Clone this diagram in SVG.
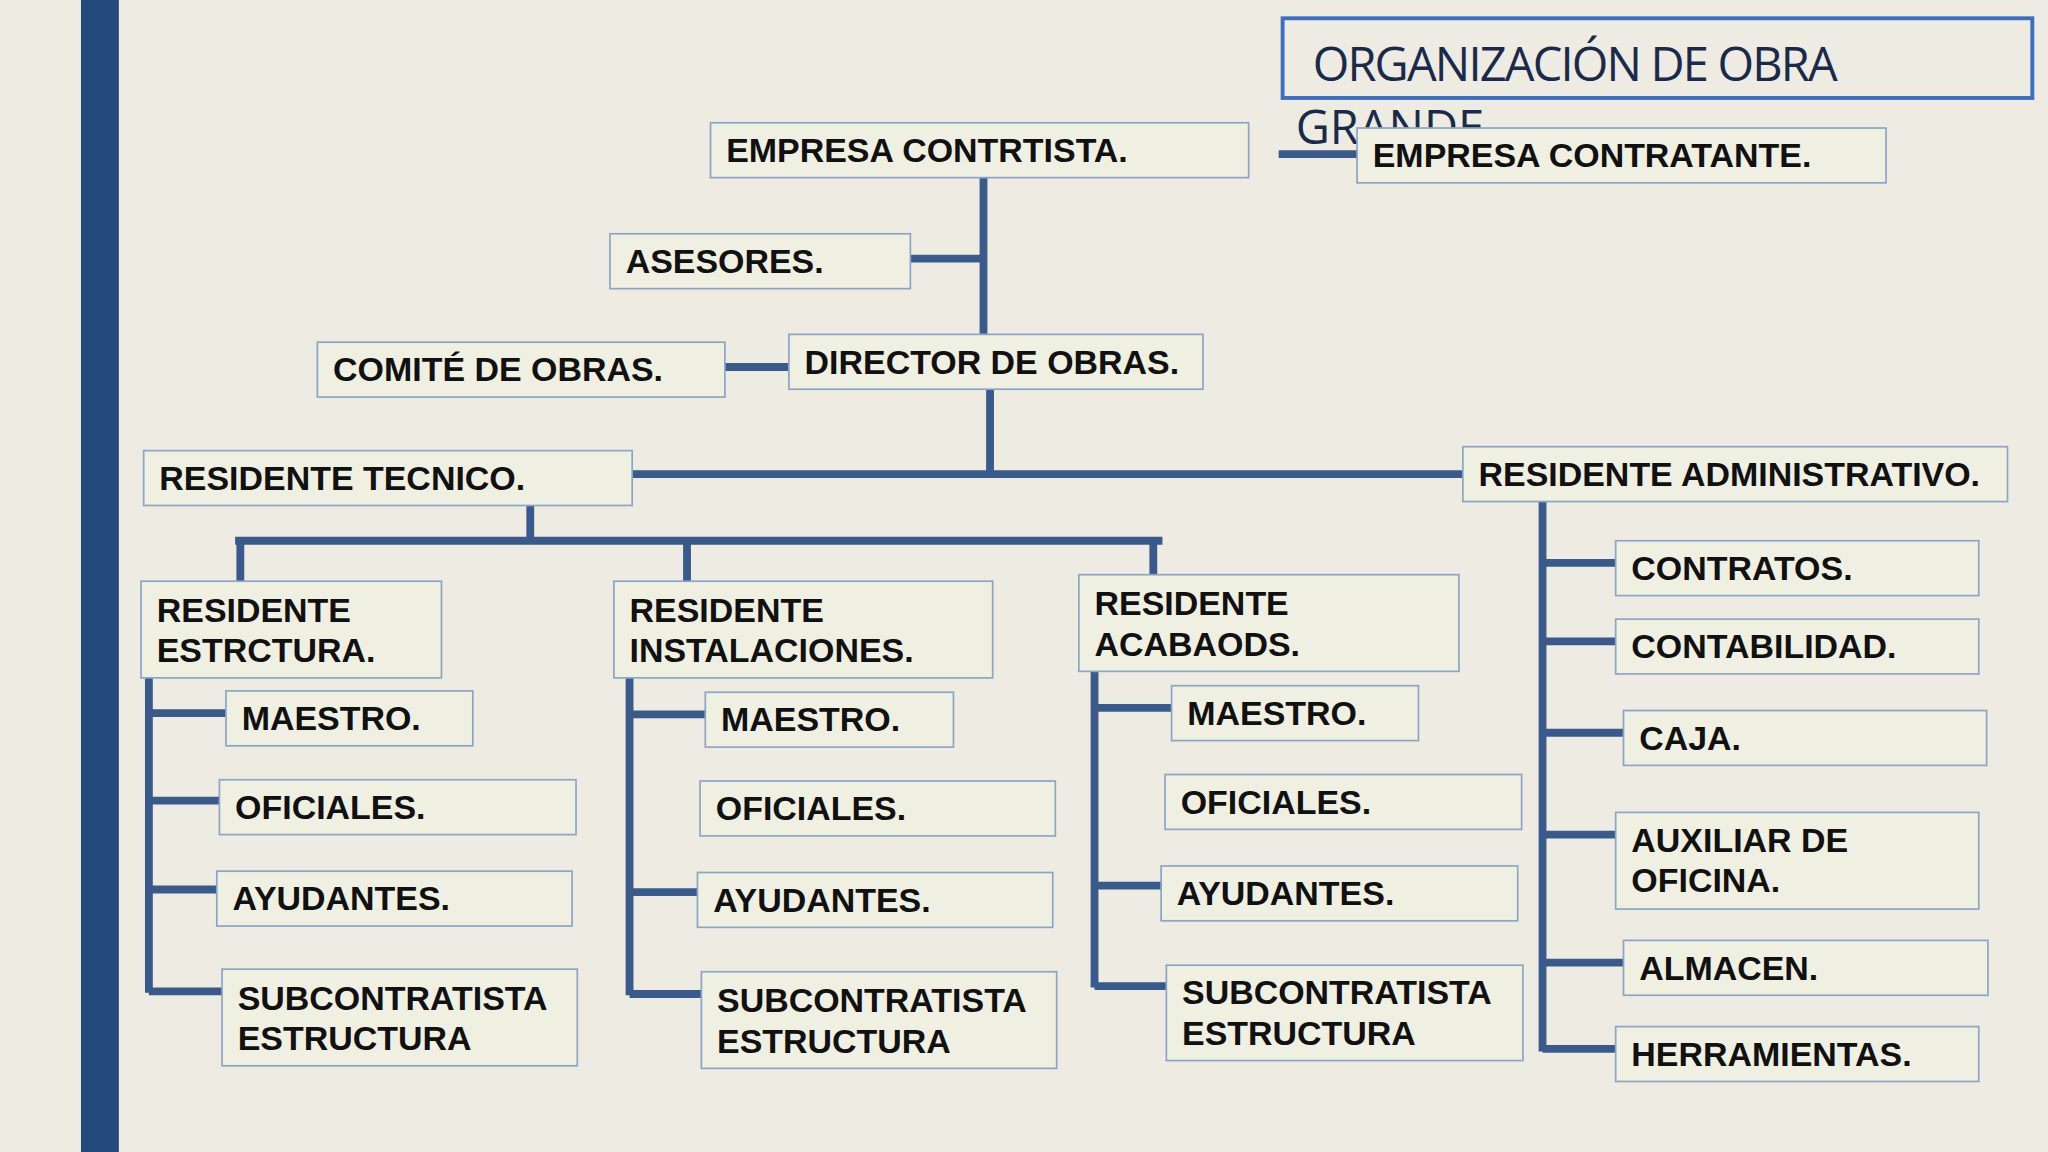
<svg xmlns="http://www.w3.org/2000/svg" width="2048" height="1152" viewBox="0 0 2048 1152">
<style>
.b{fill:#eff0e2;stroke:#8aa6c6;stroke-width:1.3}
.t{font-family:"Liberation Sans",Arial,sans-serif;font-weight:bold;font-size:26px;fill:#111}
.c{stroke:#3b5a8c;stroke-width:6;fill:none}
</style>
<rect width="2048" height="1152" fill="#eeece2"/>
<g transform="scale(1.30612)">
<rect x="62" y="0" width="29" height="882" fill="#244a7c"/>
<g id="title">
<text x="1005" y="62" font-family="'Open Sans','Liberation Sans',sans-serif" font-size="36" fill="#1a2a4a" textLength="402">ORGANIZACIÓN DE OBRA</text>
<text x="992" y="110" font-family="'Open Sans','Liberation Sans',sans-serif" font-size="36" fill="#1a2a4a">GRANDE</text>
<rect x="982" y="14" width="574" height="61" fill="none" stroke="#3a6fc4" stroke-width="3"/>
</g>
<g id="connectors">
<path class="c" d="M979 118H1039M753 136V256M697 198H753M555 281H610M758 298V362M484 363H1120M406 387V414M180 414H890M184 414V445M526 414V445M883 414V440"/>
<path class="c" d="M114 519V760M114 546H173M114 613H168M114 681H166M114 759H170"/>
<path class="c" d="M482 519V762M482 547H540M482 683H534M482 761H537"/>
<path class="c" d="M838 514V756M838 542H897M838 678H889M838 755H893"/>
<path class="c" d="M1181 384V805M1181 431H1237M1181 491H1237M1181 561H1243M1181 639H1237M1181 737H1243M1181 803H1237"/>
</g>
<g id="n1"><rect class="b" x="544" y="94" width="412" height="42"/><text class="t" x="556" y="124">EMPRESA CONTRTISTA.</text></g>
<g id="n2"><rect class="b" x="1039" y="98" width="405" height="42"/><text class="t" x="1051" y="128">EMPRESA CONTRATANTE.</text></g>
<g id="n3"><rect class="b" x="467" y="179" width="230" height="42"/><text class="t" x="479" y="209">ASESORES.</text></g>
<g id="n4"><rect class="b" x="604" y="256" width="317" height="42"/><text class="t" x="616" y="286">DIRECTOR DE OBRAS.</text></g>
<g id="n5"><rect class="b" x="243" y="262" width="312" height="42"/><text class="t" x="255" y="292">COMITÉ DE OBRAS.</text></g>
<g id="n6"><rect class="b" x="110" y="345" width="374" height="42"/><text class="t" x="122" y="375">RESIDENTE TECNICO.</text></g>
<g id="n7"><rect class="b" x="1120" y="342" width="417" height="42"/><text class="t" x="1132" y="372">RESIDENTE ADMINISTRATIVO.</text></g>
<g id="n8"><rect class="b" x="108" y="445" width="230" height="74"/><text class="t" x="120" y="476">RESIDENTE</text><text class="t" x="120" y="507">ESTRCTURA.</text></g>
<g id="n9"><rect class="b" x="470" y="445" width="290" height="74"/><text class="t" x="482" y="476">RESIDENTE</text><text class="t" x="482" y="507">INSTALACIONES.</text></g>
<g id="n10"><rect class="b" x="826" y="440" width="291" height="74"/><text class="t" x="838" y="471">RESIDENTE</text><text class="t" x="838" y="502">ACABAODS.</text></g>
<g id="n11"><rect class="b" x="173" y="529" width="189" height="42"/><text class="t" x="185" y="559">MAESTRO.</text></g>
<g id="n12"><rect class="b" x="168" y="597" width="273" height="42"/><text class="t" x="180" y="627">OFICIALES.</text></g>
<g id="n13"><rect class="b" x="166" y="667" width="272" height="42"/><text class="t" x="178" y="697">AYUDANTES.</text></g>
<g id="n14"><rect class="b" x="170" y="742" width="272" height="74"/><text class="t" x="182" y="773">SUBCONTRATISTA</text><text class="t" x="182" y="804">ESTRUCTURA</text></g>
<g id="n15"><rect class="b" x="540" y="530" width="190" height="42"/><text class="t" x="552" y="560">MAESTRO.</text></g>
<g id="n16"><rect class="b" x="536" y="598" width="272" height="42"/><text class="t" x="548" y="628">OFICIALES.</text></g>
<g id="n17"><rect class="b" x="534" y="668" width="272" height="42"/><text class="t" x="546" y="698">AYUDANTES.</text></g>
<g id="n18"><rect class="b" x="537" y="744" width="272" height="74"/><text class="t" x="549" y="775">SUBCONTRATISTA</text><text class="t" x="549" y="806">ESTRUCTURA</text></g>
<g id="n19"><rect class="b" x="897" y="525" width="189" height="42"/><text class="t" x="909" y="555">MAESTRO.</text></g>
<g id="n20"><rect class="b" x="892" y="593" width="273" height="42"/><text class="t" x="904" y="623">OFICIALES.</text></g>
<g id="n21"><rect class="b" x="889" y="663" width="273" height="42"/><text class="t" x="901" y="693">AYUDANTES.</text></g>
<g id="n22"><rect class="b" x="893" y="739" width="273" height="73"/><text class="t" x="905" y="769">SUBCONTRATISTA</text><text class="t" x="905" y="800">ESTRUCTURA</text></g>
<g id="n23"><rect class="b" x="1237" y="414" width="278" height="42"/><text class="t" x="1249" y="444">CONTRATOS.</text></g>
<g id="n24"><rect class="b" x="1237" y="474" width="278" height="42"/><text class="t" x="1249" y="504">CONTABILIDAD.</text></g>
<g id="n25"><rect class="b" x="1243" y="544" width="278" height="42"/><text class="t" x="1255" y="574">CAJA.</text></g>
<g id="n26"><rect class="b" x="1237" y="622" width="278" height="74"/><text class="t" x="1249" y="652">AUXILIAR DE</text><text class="t" x="1249" y="683">OFICINA.</text></g>
<g id="n27"><rect class="b" x="1243" y="720" width="279" height="42"/><text class="t" x="1255" y="750">ALMACEN.</text></g>
<g id="n28"><rect class="b" x="1237" y="786" width="278" height="42"/><text class="t" x="1249" y="816">HERRAMIENTAS.</text></g>
</g>
</svg>
